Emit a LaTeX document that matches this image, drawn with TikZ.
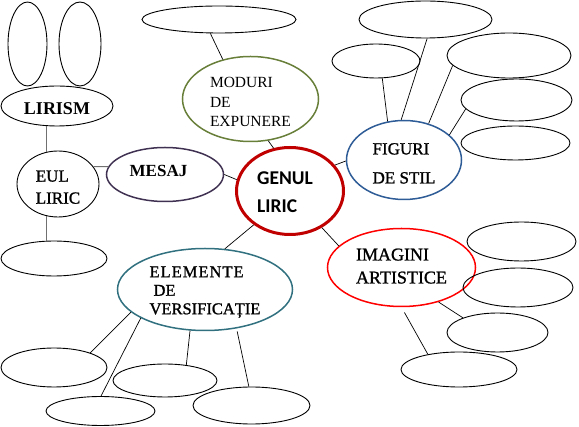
\documentclass[tikz,border=0pt]{standalone}
\usepackage{fontspec}
\setmainfont{Liberation Serif}
\newfontfamily\heavyserif{Liberation Serif}[FakeBold=1.2]
\newfontfamily\calibfont{Carlito}
\usetikzlibrary{shapes.geometric}
\definecolor{olivec}{HTML}{687F3A}
\definecolor{purplec}{HTML}{3F3151}
\definecolor{genulred}{HTML}{C00000}
\definecolor{bluec}{HTML}{2E5C96}
\definecolor{imgred}{HTML}{FF0000}
\definecolor{tealc}{HTML}{31707F}
\definecolor{grayc}{HTML}{707070}
\tikzset{
  oval/.style={ellipse, draw=black, line width=0.9pt, inner sep=0pt, align=left},
  coloval/.style={ellipse, line width=1.5pt, inner sep=0pt, align=left},
  conn/.style={draw=black, line width=0.7pt},
  gconn/.style={draw=grayc, line width=1pt},
  sz/.style 2 args={font=\fontsize{#1}{#2}\selectfont},
  hsz/.style 2 args={font=\heavyserif\fontsize{#1}{#2}\selectfont}
}
\begin{document}
\begin{tikzpicture}[x=1pt,y=-1pt]
\useasboundingbox (0,0) rectangle (579,427);

% left column
\node[oval, minimum width=39pt, minimum height=84pt] (tl1) at (27.5,44) {};
\node[oval, minimum width=42pt, minimum height=84pt] (tl2) at (80,44) {};
\node[oval, minimum width=112pt, minimum height=40pt, sz={18}{20}] (lirism) at (57,106) {\bfseries\rule{0pt}{18pt}LIRISM};
\node[oval, minimum width=82pt, minimum height=66pt, hsz={17}{22}] (eul) at (58,184) {\rule{0pt}{17.5pt}EUL\\LIRIC};
\node[oval, minimum width=106pt, minimum height=35pt] (bl1) at (54,258.5) {};
\node[coloval, draw=purplec, minimum width=117pt, minimum height=54pt, sz={17}{20}] (mesaj) at (165,174.5) {\bfseries MESAJ\hspace{13pt}\rule[-6.6pt]{0pt}{0pt}};

% top centre
\node[oval, minimum width=154pt, minimum height=27pt] (topm) at (219,19.5) {};
\node[coloval, draw=olivec, minimum width=136pt, minimum height=85pt, sz={15.5}{19.5}] (moduri) at (250.5,99) {\rule{0pt}{17pt}MODURI\\DE\\EXPUNERE};

% centre
\node[ellipse, draw=genulred, line width=3pt, inner sep=0pt, align=left, minimum width=107pt, minimum height=87pt, font=\calibfont\bfseries\fontsize{19.5}{28}\selectfont] (genul) at (290,191) {\rule{0pt}{15pt}GENUL\rule{10pt}{0pt}\\LIRIC};

% figuri
\node[coloval, draw=bluec, minimum width=115pt, minimum height=79pt, hsz={17}{29}] (figuri) at (404,160) {\rule{0pt}{18pt}FIGURI\\DE STIL};
\node[oval, minimum width=133pt, minimum height=37pt] (fa) at (425.5,19.5) {};
\node[oval, minimum width=88pt, minimum height=34pt] (fb) at (376,61) {};
\node[oval, minimum width=124pt, minimum height=45pt] (fc) at (509,55.5) {};
\node[oval, minimum width=111pt, minimum height=42pt] (fd) at (516.5,100) {};
\node[oval, minimum width=109pt, minimum height=34pt] (fe) at (515.5,143) {};

% imagini
\node[coloval, draw=imgred, minimum width=148pt, minimum height=78pt, hsz={18}{23}] (imagini) at (401.5,267.5) {IMAGINI\\ARTISTICE\rule[-3pt]{0pt}{0pt}};
\node[oval, minimum width=109pt, minimum height=39pt] (ia) at (521.5,241.5) {};
\node[oval, minimum width=110pt, minimum height=39pt] (ib) at (518,287.5) {};
\node[oval, minimum width=101pt, minimum height=39pt] (ic) at (497.5,332.5) {};
\node[oval, minimum width=116pt, minimum height=35pt] (id) at (459,369.5) {};

% elemente
\node[coloval, draw=tealc, minimum width=175pt, minimum height=82pt, hsz={16.5}{18.5}] (elem) at (205,289.5) {\rule{0pt}{16pt}E\kern1pt L\kern1pt E\kern1pt M\kern1pt E\kern1pt N\kern1pt T\kern1pt E\\\hspace*{4pt}DE\\VERSIFICAȚIE};
\node[oval, minimum width=106pt, minimum height=39pt] (ea) at (54,367.5) {};
\node[oval, minimum width=109pt, minimum height=29pt] (eb) at (100.5,411) {};
\node[oval, minimum width=104pt, minimum height=33pt] (ec) at (165,380.5) {};
\node[oval, minimum width=117pt, minimum height=37pt] (ed) at (251.5,405.5) {};

% connectors
\draw[gconn] (eul.110) -- (eul.110 |- lirism.south);
\draw[gconn] (eul.-110) -- (eul.-110 |- bl1.north);
\draw[gconn] (eul.26) -- (mesaj.172.5);
\draw[conn] (topm.-122) -- (moduri.125);
\draw[conn] (moduri.-67) -- (genul.111);
\draw[conn] (mesaj.0) -- (genul.168);
\draw[conn] (genul.30) -- (figuri.181);
\draw[conn] (fb.-70) -- (figuri.113);
\draw[conn] (fa.-85) -- (figuri.94);
\draw[conn] (fc.-170) -- (figuri.56);
\draw[conn] (fd.-170) -- (figuri.29);
\draw[conn] (genul.-49) -- (imagini.161);
\draw[conn] (imagini.-43) -- (ic.157);
\draw[conn, shorten <=6pt] (imagini.-90) -- (id.154);
\draw[conn] (genul.-137) -- (elem.64);
\draw[conn] (elem.-163) -- (ea.22);
\draw[conn] (elem.-156) -- (eb.88);
\draw[conn] (elem.-110) -- (ec.36);
\draw[conn, shorten <=3pt] (elem.-51) -- (ed.98);
\end{tikzpicture}
\end{document}
